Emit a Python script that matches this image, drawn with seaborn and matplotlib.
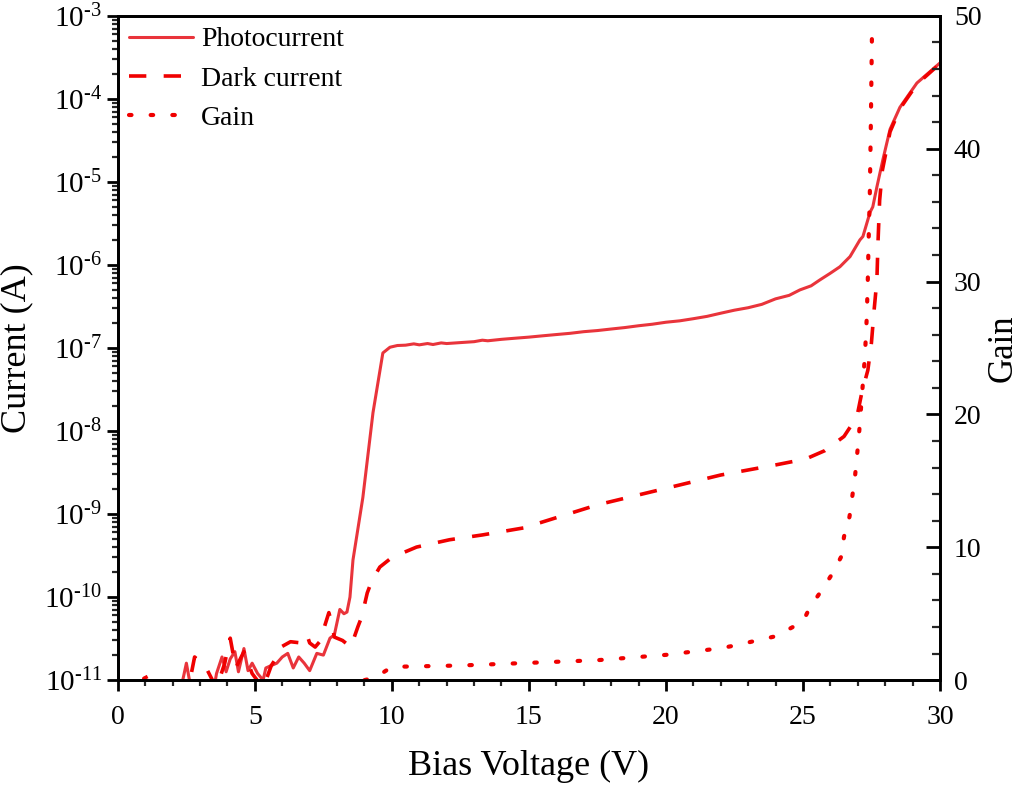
import numpy as np
import pandas as pd
import seaborn as sns
import matplotlib
matplotlib.use("Agg")
import matplotlib.pyplot as plt
from matplotlib.ticker import LogLocator, FuncFormatter, MultipleLocator, NullFormatter

# photocurrent (A) vs bias voltage (V)
photo_v = [0.0, 0.05, 0.5, 1.0, 1.5, 2.0, 2.4, 2.5, 2.6, 2.8, 3.0, 3.4, 3.6, 3.8, 3.95,
           4.1, 4.27, 4.4, 4.6, 4.75, 4.9, 5.1, 5.3, 5.4, 5.6, 5.8, 6.0, 6.2, 6.4, 6.6,
           6.8, 7.0, 7.26, 7.5, 7.74, 7.9, 8.1, 8.25, 8.36, 8.47, 8.58, 8.94, 9.31, 9.67,
           9.93, 10.2, 10.5, 10.8, 11.0, 11.3, 11.5, 11.8, 12.0, 12.5, 13.0, 13.3, 13.5,
           14.0, 14.5, 15.0, 15.5, 16.0, 16.5, 17.0, 17.5, 18.0, 18.5, 19.0, 19.5, 20.0,
           20.5, 21.0, 21.5, 22.0, 22.5, 23.0, 23.5, 24.0, 24.5, 24.89, 25.3, 25.62, 25.99,
           26.35, 26.72, 27.08, 27.19, 27.45, 27.55, 27.70, 27.92, 28.18, 28.54, 29.16, 30.0]
photo_i = [1.9e-11, 3e-12, 3e-12, 3e-12, 3e-12, 3e-12, 1.12e-11, 1.6e-11, 1.05e-11, 5e-12,
           3e-12, 5e-12, 1.2e-11, 1.9e-11, 1.26e-11, 1.8e-11, 2.2e-11, 1.26e-11, 2.4e-11,
           1.3e-11, 1.6e-11, 1.2e-11, 1.0e-11, 1.4e-11, 1.5e-11, 1.6e-11, 1.9e-11, 2.1e-11,
           1.4e-11, 1.9e-11, 1.6e-11, 1.3e-11, 2.1e-11, 2.0e-11, 3.2e-11, 3.5e-11, 7.1e-11,
           6.3e-11, 6.6e-11, 1.0e-10, 2.8e-10, 1.58e-9, 1.66e-8, 8.7e-8, 1.02e-7, 1.07e-7,
           1.08e-7, 1.12e-7, 1.09e-7, 1.13e-7, 1.10e-7, 1.15e-7, 1.13e-7, 1.16e-7, 1.19e-7,
           1.24e-7, 1.22e-7, 1.27e-7, 1.31e-7, 1.35e-7, 1.40e-7, 1.45e-7, 1.50e-7, 1.57e-7,
           1.62e-7, 1.69e-7, 1.76e-7, 1.85e-7, 1.93e-7, 2.04e-7, 2.12e-7, 2.25e-7, 2.40e-7,
           2.62e-7, 2.85e-7, 3.05e-7, 3.35e-7, 3.9e-7, 4.3e-7, 5.0e-7, 5.6e-7, 6.6e-7, 7.9e-7,
           9.5e-7, 1.26e-6, 2.0e-6, 2.2e-6, 4.3e-6, 5.0e-6, 8.7e-6, 1.86e-5, 4.3e-5, 7.9e-5,
           1.55e-4, 2.7e-4]

# dark current (A)
dark_v = [0.0, 0.85, 0.95, 1.3, 1.5, 2.5, 2.8, 3.2, 3.6, 3.9, 4.0, 4.1, 4.3, 4.6, 4.9, 5.3,
          5.6, 5.8, 5.95, 6.3, 6.7, 6.9, 7.0, 7.2, 7.4, 7.5, 7.7, 7.8, 7.9, 8.2, 8.5, 8.76,
          8.9, 9.1, 9.27, 9.56, 10.0, 10.9, 12.1, 13.3, 14.8, 17.5, 20.0, 22.0, 24.0, 25.1,
          25.8, 26.5, 26.97, 27.15, 27.37, 27.5, 27.6, 27.7, 27.74, 27.8, 27.9, 28.18, 28.54,
          29.16, 30.0]
dark_i = [4e-12, 6e-12, 1.05e-11, 1.2e-11, 6e-12, 6e-12, 1.9e-11, 1.45e-11, 8e-12, 1.6e-11,
          2.3e-11, 3.2e-11, 1.4e-11, 2.2e-11, 1.2e-11, 8e-12, 1.5e-11, 1.9e-11, 2.5e-11,
          2.9e-11, 2.8e-11, 3.5e-11, 2.8e-11, 2.5e-11, 3.0e-11, 4.0e-11, 6.5e-11, 4.9e-11,
          3.3e-11, 3.0e-11, 2.5e-11, 4.4e-11, 5.8e-11, 1.12e-10, 1.58e-10, 2.3e-10, 3.0e-10,
          4.0e-10, 4.9e-10, 5.6e-10, 6.8e-10, 1.29e-9, 2.04e-9, 2.95e-9, 3.9e-9, 4.6e-9,
          5.8e-9, 8.6e-9, 1.48e-8, 2.9e-8, 5.4e-8, 1.15e-7, 2.9e-7, 6.6e-7, 1.86e-6, 6.0e-6,
          1.38e-5, 4.0e-5, 7.6e-5, 1.5e-4, 2.65e-4]

# gain (right axis)
gain_v = [9.0, 9.4, 10.0, 12.5, 15.0, 17.5, 20.0, 22.0, 22.5, 24.0, 25.0, 25.26, 25.7, 26.1,
          26.4, 26.5, 26.7, 26.8, 26.9, 26.97, 27.04, 27.15, 27.26, 27.33, 27.37, 27.4, 27.44,
          27.48, 27.52]
gain = [0.0, 0.2, 1.0, 1.1, 1.3, 1.5, 1.9, 2.4, 2.6, 3.3, 4.4, 5.5, 6.8, 8.1, 9.3, 10.8,
        12.3, 13.8, 15.3, 16.8, 18.3, 21.3, 24.3, 27.3, 30.3, 33.3, 36.4, 42.0, 48.7]

sns.set_theme(style="ticks")
plt.rcParams["font.family"] = ["Liberation Serif", "DejaVu Serif"]
plt.rcParams["mathtext.fontset"] = "custom"
plt.rcParams["mathtext.rm"] = "Liberation Serif"
plt.rcParams["mathtext.it"] = "Liberation Serif:italic"
plt.rcParams["mathtext.bf"] = "Liberation Serif:bold"
plt.rcParams["text.color"] = "black"
plt.rcParams["axes.labelcolor"] = "black"

df_photo = pd.DataFrame({"V": photo_v, "I": photo_i})
df_dark = pd.DataFrame({"V": dark_v, "I": dark_i})
df_gain = pd.DataFrame({"V": gain_v, "G": gain})

fig = plt.figure(figsize=(10.25, 7.89), dpi=100)
ax1 = fig.add_axes([0.115, 0.138, 0.802, 0.842])
ax2 = ax1.twinx()

c_photo = "#E9343B"
c_red = "#F00000"

sns.lineplot(data=df_photo, x="V", y="I", ax=ax1, color=c_photo, lw=2.2,
             estimator=None, label="Photocurrent", legend=False)
sns.lineplot(data=df_dark, x="V", y="I", ax=ax1, color=c_red, lw=2.6,
             estimator=None, linestyle=(0, (4.8, 4.8)),
             label="Dark current", legend=False)
sns.lineplot(data=df_gain, x="V", y="G", ax=ax2, color=c_red, lw=3,
             estimator=None, linestyle=(0, (0.6, 4.6)), dash_capstyle="round",
             label="Gain", legend=False)

ax1.set_yscale("log")
ax1.set_xlim(0, 30)
ax1.set_ylim(1e-11, 1e-3)
ax2.set_ylim(0, 50)

ax1.xaxis.set_major_locator(MultipleLocator(5))
ax1.xaxis.set_minor_locator(MultipleLocator(1))
ax1.yaxis.set_major_locator(LogLocator(base=10, numticks=20))
ax1.yaxis.set_minor_locator(LogLocator(base=10, subs=np.arange(2, 10), numticks=20))
ax1.yaxis.set_minor_formatter(NullFormatter())
ax1.yaxis.set_major_formatter(FuncFormatter(
    lambda v, p: r"$\mathregular{10^{\text{-}%d}}$" % abs(int(round(np.log10(v))))))
ax2.yaxis.set_major_locator(MultipleLocator(10))
ax2.yaxis.set_minor_locator(MultipleLocator(2))

for ax in (ax1, ax2):
    for s in ax.spines.values():
        s.set_linewidth(2)
        s.set_color("black")

ax1.tick_params(axis="both", which="major", direction="out", length=8, width=2,
                labelsize=21, colors="black", right=False, top=False)
ax1.tick_params(axis="both", which="minor", direction="out", length=4.5, width=1.6,
                right=False, top=False)
ax1.tick_params(axis="x", labelsize=20, pad=10)
ax2.tick_params(axis="y", which="major", direction="in", length=10, width=2,
                labelsize=20, colors="black", pad=10)
ax2.tick_params(axis="y", which="minor", direction="in", length=6, width=1.6)

ax1.set_xlabel("Bias Voltage (V)", fontsize=26, labelpad=14)
ax1.set_ylabel("Current (A)", fontsize=26, labelpad=8)
ax2.set_ylabel("Gain", fontsize=25, labelpad=4)

h1, l1 = ax1.get_legend_handles_labels()
h2, l2 = ax2.get_legend_handles_labels()
ax2.legend(h1 + h2, l1 + l2, loc="upper left", frameon=False, fontsize=20,
           handlelength=2.3, handletextpad=0.3, labelspacing=0.5,
           borderaxespad=0.2, borderpad=0.2)

fig.savefig("out.png", dpi=100)
